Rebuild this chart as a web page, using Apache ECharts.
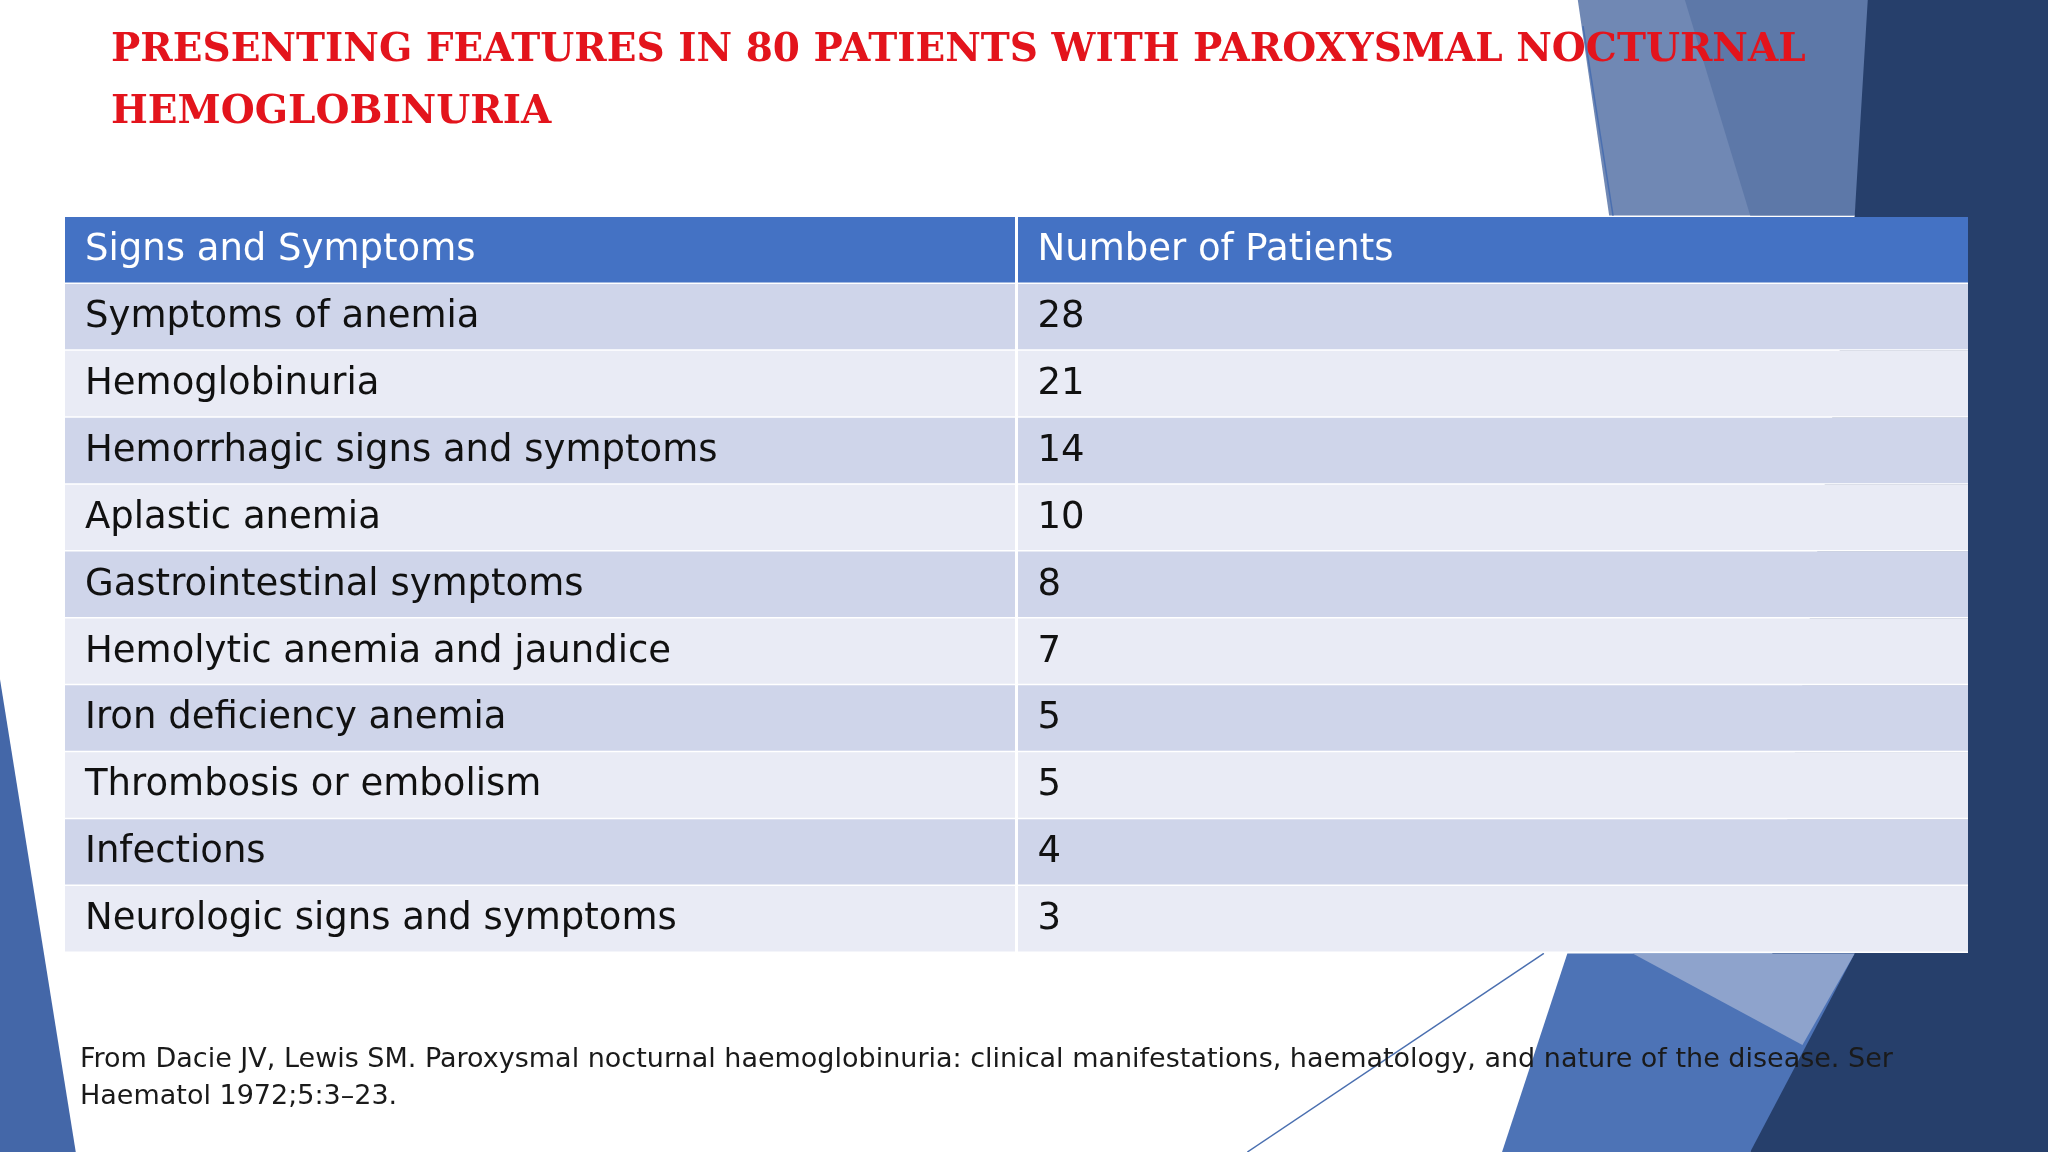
<!DOCTYPE html>
<html>
<head>
<meta charset="utf-8">
<script src="https://cdn.jsdelivr.net/npm/echarts@6/dist/echarts.min.js"></script>
<style>
html,body{margin:0;padding:0;background:#fff;}
#chart{width:2048px;height:1152px;}
</style>
</head>
<body>
<div id="chart"></div>
<script>
var headers = ['Signs and Symptoms', 'Number of Patients'];
var signs = ['Symptoms of anemia', 'Hemoglobinuria', 'Hemorrhagic signs and symptoms', 'Aplastic anemia',
  'Gastrointestinal symptoms', 'Hemolytic anemia and jaundice', 'Iron deficiency anemia',
  'Thrombosis or embolism', 'Infections', 'Neurologic signs and symptoms'];
var patients = [28, 21, 14, 10, 8, 7, 5, 5, 4, 3];

var rows = [headers.slice()];
signs.forEach(function (s, i) { rows.push([s, String(patients[i])]); });
var rowNames = rows.map(function (r, i) { return 'r' + i; });

var chart = echarts.init(document.getElementById('chart'));

// scale from the 1568px wide reference
var s = 2048 / 1568;
function pts(a) { return a.map(function (p) { return [p[0] * s, p[1] * s]; }); }

option = {
  backgroundColor: '#ffffff',
  animation: false,
  graphic: [
    { type: 'polygon', z: -10, shape: { points: pts([[1208,0],[1440,0],[1420,165],[1232,165]]) }, style: { fill: '#7088b4' } },
    { type: 'polygon', z: -10, shape: { points: pts([[1290,0],[1440,0],[1420,165],[1340,165]]) }, style: { fill: '#5d78a8' } },
    { type: 'polygon', z: -9, shape: { points: pts([[1430,0],[1568,0],[1568,882],[1340,882],[1420,165]]) }, style: { fill: '#263f6b' } },
    { type: 'polygon', z: -9, shape: { points: pts([[1200,730],[1420,730],[1340,882],[1150,882]]) }, style: { fill: '#4d73b6' } },
    { type: 'polygon', z: -9, shape: { points: pts([[1250,730],[1420,730],[1380,800]]) }, style: { fill: '#8ea3cc' } },
    { type: 'polygon', z: -9, shape: { points: pts([[0,520],[58,882],[0,882]]) }, style: { fill: '#4467a8' } },
    { type: 'line', z: -8, shape: { x1: 1212 * s, y1: 20 * s, x2: 1235 * s, y2: 165 * s }, style: { stroke: '#4a6fb0', lineWidth: 1.5 } },
    { type: 'line', z: -8, shape: { x1: 955 * s, y1: 882 * s, x2: 1182 * s, y2: 730 * s }, style: { stroke: '#4a6fb0', lineWidth: 1.5 } },
    {
      type: 'text', left: 111, top: 20,
      style: {
        text: 'PRESENTING FEATURES IN 80 PATIENTS WITH PAROXYSMAL NOCTURNAL\nHEMOGLOBINURIA',
        font: 'bold 39px "DejaVu Serif"', fill: '#e3141c', lineHeight: 62
      }
    },
    {
      type: 'text', left: 80, top: 1041,
      style: {
        text: 'From Dacie JV, Lewis SM. Paroxysmal nocturnal haemoglobinuria: clinical manifestations, haematology, and nature of the disease. Ser\nHaematol 1972;5:3\u201323.',
        font: '27px "DejaVu Sans"', fill: '#1a1a1a', lineHeight: 37
      }
    }
  ],
  grid: { left: 65, right: 80, top: 217, height: 736 },
  xAxis: { type: 'value', min: 0, max: 2, show: false },
  yAxis: { type: 'category', data: rowNames, inverse: true, show: false },
  series: [{
    type: 'custom',
    data: rows.map(function (r, i) { return [i]; }),
    renderItem: function (params, api) {
      var i = api.value(0);
      var c = api.coord([0, i]);
      var h = api.size([0, 1])[1];
      var x0 = api.coord([0, 0])[0], x1 = api.coord([1, 0])[0], x2 = api.coord([2, 0])[0];
      var top = c[1] - h / 2;
      var fill = i === 0 ? '#4472c4' : (i % 2 === 1 ? '#cfd5ea' : '#e9ebf5');
      var col = i === 0 ? '#ffffff' : '#111111';
      var font = '37px "DejaVu Sans"';
      return {
        type: 'group',
        children: [
          { type: 'rect', shape: { x: x0, y: top, width: x2 - x0, height: h }, style: { fill: '#ffffff' } },
          { type: 'rect', shape: { x: x0, y: top, width: x1 - x0 - 1.5, height: h - 1.5 }, style: { fill: fill } },
          { type: 'rect', shape: { x: x1 + 1.5, y: top, width: x2 - x1 - 1.5, height: h - 1.5 }, style: { fill: fill } },
          { type: 'text', x: x0 + 20, y: c[1], style: { text: rows[i][0], font: font, fill: col, verticalAlign: 'middle' } },
          { type: 'text', x: x1 + 21, y: c[1], style: { text: rows[i][1], font: font, fill: col, verticalAlign: 'middle' } }
        ]
      };
    }
  }]
};
chart.setOption(option);
</script>
</body>
</html>
